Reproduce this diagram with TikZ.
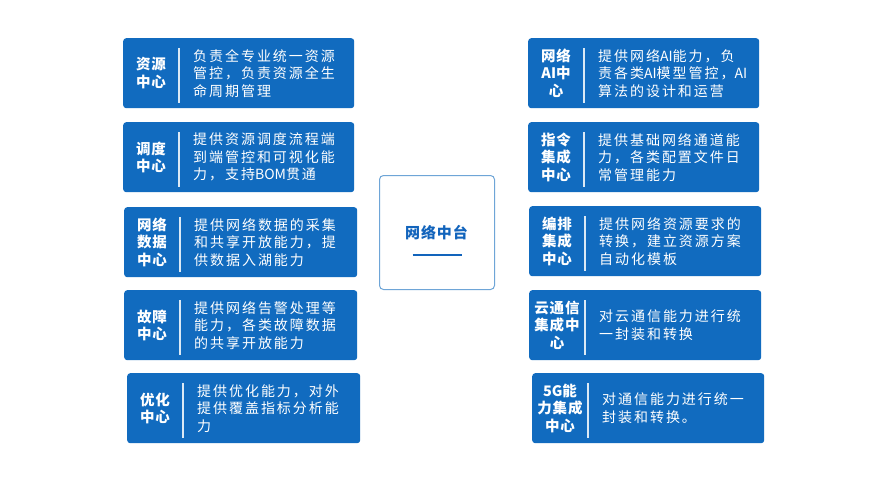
\documentclass[tikz,border=0pt]{standalone}
\usepackage{fontspec}
\newfontfamily\cjk[LetterSpace=14]{Noto Sans CJK SC}
\newfontfamily\cjktitle[LetterSpace=6]{Noto Sans CJK SC}
\newfontfamily\lat{Noto Sans CJK SC}
\usetikzlibrary{calc}

\definecolor{cardblue}{RGB}{17,107,191}
\definecolor{hubline}{RGB}{110,165,215}
\definecolor{hubtext}{RGB}{18,100,188}

\tikzset{
  card/.style={fill=cardblue, rounded corners=3pt, anchor=north west,
    inner sep=0pt, minimum height=70pt},
  cardtitle/.style={text=white, align=center, inner sep=0pt,
    font=\cjktitle\bfseries\fontsize{14.5}{17.5}\selectfont},
  carddesc/.style={text=white, align=left, anchor=west, inner sep=0pt,
    font=\cjk\fontsize{14}{17.5}\selectfont},
  divider/.style={white!85!cardblue, line width=1.2pt},
}

\begin{document}
\begin{tikzpicture}[x=1pt, y=-1pt]
  \useasboundingbox[fill=white] (0,0) rectangle (877,484);

  %% ── Cards: name / left / top / width / title / text ─────────
  \foreach \nm/\x/\y/\w/\lbl/\txt in {
      zy/123/38/231/{资源\\中心}/{负责全专业统一资源\\管控，负责资源全生\\命周期管理},
      dd/123/122/231/{调度\\中心}/{提供资源调度流程端\\到端管控和可视化能\\力，支持{\lat BOM}贯通},
      sj/124/207/233/{网络\\数据\\中心}/{提供网络数据的采集\\和共享开放能力，提\\供数据入湖能力},
      gz/124/290/233/{故障\\中心}/{提供网络告警处理等\\能力，各类故障数据\\的共享开放能力},
      yh/127/373/233/{优化\\中心}/{提供优化能力，对外\\提供覆盖指标分析能\\力},
      ai/528/38/231/{网络\\{\lat AI}中\\心}/{提供网络{\lat AI}能力，负\\责各类{\lat AI}模型管控，{\lat AI}\\算法的设计和运营},
      zl/528/122/231/{指令\\集成\\中心}/{提供基础网络通道能\\力，各类配置文件日\\常管理能力},
      bp/529/206/232/{编排\\集成\\中心}/{提供网络资源要求的\\转换，建立资源方案\\自动化模板},
      yt/529/290/232/{云通信\\集成中\\心}/{对云通信能力进行统\\一封装和转换},
      wg/532/373/232/{{\lat 5G}能\\力集成\\中心}/{对通信能力进行统一\\封装和转换。}}{
    \node[card, minimum width=\w pt] (\nm) at (\x,\y) {};
    \node[cardtitle] (\nm-t) at ($(\nm.west)+(28,0)$) {\lbl};
    \draw[divider] ($(\nm.north west)+(56,10)$) -- ($(\nm.south west)+(56,-5)$);
    \node[carddesc] (\nm-d) at ($(\nm.west)+(70,0)$) {\txt};
  }

  %% ── Hub in the middle ───────────────────────────────────────
  \node[draw=hubline, line width=1pt, rounded corners=4pt, anchor=north west,
    minimum width=115pt, minimum height=114pt, inner sep=0pt] (hub) at (379,175) {};
  \node[text=hubtext, inner sep=0pt,
    font=\cjktitle\bfseries\fontsize{15}{18}\selectfont] (hub-t) at (436.5,233) {网络中台};
  \draw[hubtext, line width=2pt] ($(hub.center)+(-24.5,22)$) -- ($(hub.center)+(24.5,22)$);
\end{tikzpicture}
\end{document}
